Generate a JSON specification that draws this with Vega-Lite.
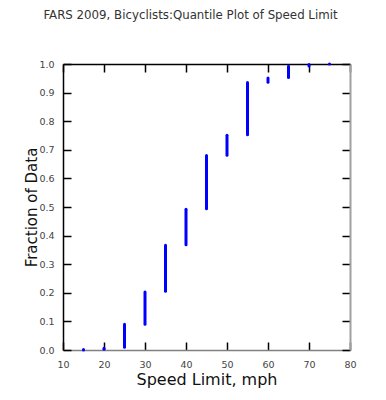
{
  "$schema": "https://vega.github.io/schema/vega-lite/v6.json",
  "width": 287,
  "height": 286,
  "autosize": "none",
  "padding": {"left": 63, "top": 64, "right": 36, "bottom": 50},
  "background": "white",
  "title": {
    "text": "FARS 2009, Bicyclists:Quantile Plot of Speed Limit",
    "font": "DejaVu Sans",
    "fontSize": 11.8,
    "fontWeight": "normal",
    "color": "#333333",
    "anchor": "middle",
    "dx": -16,
    "offset": 37
  },
  "config": {
    "view": {"stroke": null},
    "axis": {
      "grid": false,
      "labelFont": "DejaVu Sans",
      "labelFontSize": 9.5,
      "labelColor": "#444444",
      "labelFlush": false,
      "titleFont": "DejaVu Sans",
      "titleFontWeight": "normal",
      "titleColor": "#111111",
      "tickColor": "#000000",
      "tickWidth": 1.5
    }
  },
  "data": {
    "values": [
      {"speed": 15, "lo": 0.0, "hi": 0.002},
      {"speed": 20, "lo": 0.003, "hi": 0.006},
      {"speed": 25, "lo": 0.01, "hi": 0.09},
      {"speed": 30, "lo": 0.09, "hi": 0.203},
      {"speed": 35, "lo": 0.205, "hi": 0.366},
      {"speed": 40, "lo": 0.368, "hi": 0.492},
      {"speed": 45, "lo": 0.494, "hi": 0.68},
      {"speed": 50, "lo": 0.681, "hi": 0.751},
      {"speed": 55, "lo": 0.753, "hi": 0.935},
      {"speed": 60, "lo": 0.936, "hi": 0.951},
      {"speed": 65, "lo": 0.953, "hi": 0.992},
      {"speed": 70, "lo": 0.993, "hi": 0.998},
      {"speed": 75, "lo": 1.0, "hi": 1.0}
    ]
  },
  "resolve": {"axis": {"x": "independent", "y": "independent"}},
  "layer": [
    {
      "mark": {"type": "rule", "color": "#0000ff", "strokeWidth": 3, "strokeCap": "round"},
      "encoding": {
        "x": {
          "field": "speed", "type": "quantitative",
          "scale": {"domain": [10, 80], "nice": false, "zero": false},
          "axis": {
            "orient": "bottom", "values": [10, 20, 30, 40, 50, 60, 70, 80],
            "title": "Speed Limit, mph", "titleFontSize": 16, "titlePadding": 3,
            "tickSize": -8, "labelPadding": 17, "domainColor": "#808080", "domainWidth": 1.5
          }
        },
        "y": {
          "field": "lo", "type": "quantitative",
          "scale": {"domain": [0, 1], "nice": false},
          "axis": {
            "orient": "left", "values": [0, 0.1, 0.2, 0.3, 0.4, 0.5, 0.6, 0.7, 0.8, 0.9, 1.0],
            "format": ".1f", "title": "Fraction of Data", "titleFontSize": 15, "titlePadding": -1,
            "tickSize": -8, "labelPadding": 17, "domainColor": "#000000", "domainWidth": 1.5
          }
        },
        "y2": {"field": "hi"}
      }
    },
    {
      "mark": {"type": "rule", "opacity": 0},
      "encoding": {
        "x": {
          "field": "speed", "type": "quantitative",
          "axis": {
            "orient": "top", "values": [10, 20, 30, 40, 50, 60, 70, 80],
            "labels": false, "title": null, "tickSize": -8, "domainColor": "#000000", "domainWidth": 1.5
          }
        },
        "y": {
          "field": "lo", "type": "quantitative",
          "axis": {
            "orient": "right", "values": [0, 0.1, 0.2, 0.3, 0.4, 0.5, 0.6, 0.7, 0.8, 0.9, 1.0],
            "labels": false, "title": null, "tickSize": -8, "domainColor": "#a0a0a0", "domainWidth": 2
          }
        },
        "y2": {"field": "hi"}
      }
    }
  ]
}
